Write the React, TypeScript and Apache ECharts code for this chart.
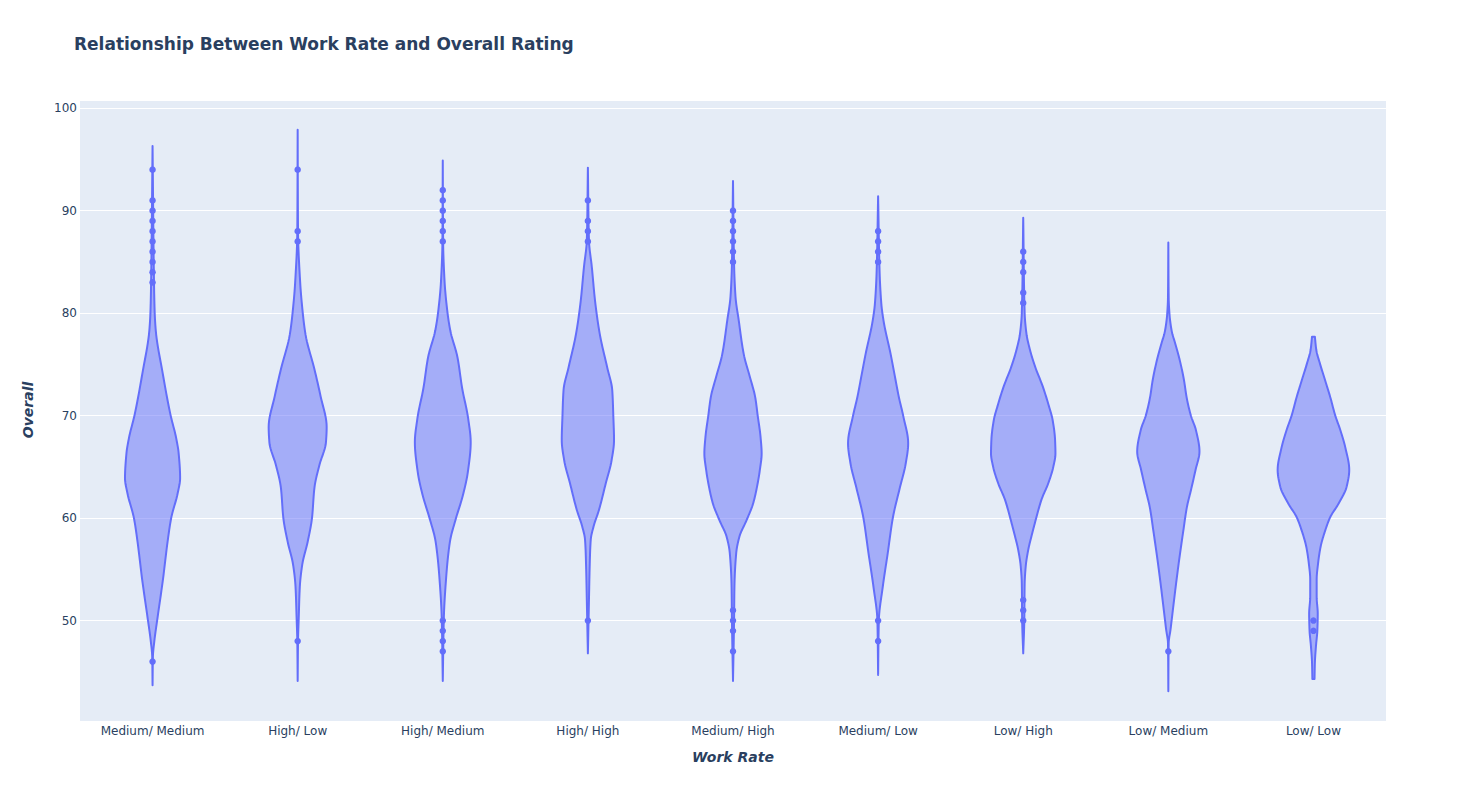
import React, { useEffect, useRef } from "react";
import * as echarts from "echarts";

const categories = [
  "Medium/ Medium",
  "High/ Low",
  "High/ Medium",
  "High/ High",
  "Medium/ High",
  "Medium/ Low",
  "Low/ High",
  "Low/ Medium",
  "Low/ Low",
];

// Estimated density profiles: [overall rating, relative density]
const densityMediumMedium = [[96.3, 0], [83.1, 0.04], [80, 0.06], [78.3, 0.09], [74.2, 0.28], [70.1, 0.5], [67.8, 0.66], [66.3, 0.73], [63.9, 0.77], [62.4, 0.7], [60, 0.52], [57.7, 0.42], [54, 0.29], [50.3, 0.14], [48, 0.05], [46.5, 0.01], [43.7, 0]];
const densityHighLow = [[97.9, 0], [88, 0.01], [83, 0.07], [80.1, 0.14], [77.9, 0.22], [74.5, 0.47], [71.9, 0.64], [68.9, 0.81], [67.4, 0.79], [65.2, 0.61], [63, 0.47], [60, 0.4], [57.7, 0.28], [55.5, 0.13], [53.3, 0.06], [50.3, 0.03], [48, 0.01], [44.1, 0]];
const densityHighMedium = [[94.9, 0], [86.9, 0.01], [83.1, 0.05], [80.1, 0.13], [78.3, 0.21], [75.7, 0.41], [72.7, 0.54], [69.7, 0.71], [67.4, 0.78], [64.5, 0.7], [62.2, 0.56], [60, 0.37], [57.7, 0.2], [54, 0.09], [50.3, 0.03], [44.1, 0]];
const densityHighHigh = [[94.2, 0], [87.1, 0.03], [84.5, 0.11], [81.2, 0.2], [78, 0.33], [74.7, 0.54], [72.5, 0.68], [70, 0.71], [67.6, 0.73], [65.6, 0.66], [63.4, 0.5], [60.8, 0.31], [59.2, 0.16], [57.9, 0.08], [55.3, 0.05], [52, 0.03], [46.8, 0]];
const densityMediumHigh = [[92.9, 0], [84.8, 0.03], [81.6, 0.07], [79.3, 0.16], [76, 0.3], [73.8, 0.47], [71.8, 0.62], [70, 0.69], [67.9, 0.77], [66.3, 0.8], [64.7, 0.75], [62.7, 0.65], [61.4, 0.56], [59.8, 0.38], [58.2, 0.18], [56.6, 0.09], [53.3, 0.04], [50.1, 0.03], [44.1, 0]];
const densityMediumLow = [[91.4, 0], [84.2, 0.04], [80.9, 0.09], [79.3, 0.15], [76, 0.35], [73.8, 0.47], [71.8, 0.58], [70, 0.7], [67.3, 0.84], [65.3, 0.77], [63, 0.61], [60, 0.41], [56.6, 0.27], [53.3, 0.13], [50, 0.02], [44.7, 0]];
const densityLowHigh = [[89.3, 0], [80, 0.04], [78, 0.09], [76.4, 0.19], [74.8, 0.33], [72.8, 0.55], [70.9, 0.72], [69.6, 0.82], [67.6, 0.89], [66.3, 0.9], [65, 0.84], [63.4, 0.7], [61.8, 0.51], [60.1, 0.37], [58.5, 0.25], [56.9, 0.14], [55.3, 0.07], [53.6, 0.04], [50, 0.03], [46.8, 0]];
const densityLowMedium = [[86.9, 0], [81.5, 0.01], [80, 0.03], [79, 0.06], [78, 0.11], [77.3, 0.17], [75.1, 0.34], [73.4, 0.44], [71.8, 0.51], [70, 0.63], [68.6, 0.77], [66.5, 0.87], [64.7, 0.76], [62.7, 0.63], [61.1, 0.52], [58.8, 0.42], [55.6, 0.29], [52.3, 0.17], [49.1, 0.06], [47.8, 0.01], [43.1, 0]];
const densityLowLow = [[77.7, 0.04], [76.4, 0.08], [75.1, 0.18], [73.4, 0.33], [71.8, 0.47], [70, 0.61], [68.6, 0.75], [66.9, 0.89], [64.7, 1], [63.1, 0.93], [61.4, 0.7], [60.1, 0.47], [58.8, 0.33], [57.2, 0.2], [55.6, 0.13], [54, 0.09], [52.3, 0.09], [50.7, 0.12], [49.1, 0.11], [47.5, 0.07], [45.9, 0.04], [44.3, 0.03]];

// Outlier points per category
const outliersMediumMedium = [46, 83, 84, 85, 86, 87, 88, 89, 90, 91, 94];
const outliersHighLow = [48, 87, 88, 94];
const outliersHighMedium = [47, 48, 49, 50, 87, 88, 89, 90, 91, 92];
const outliersHighHigh = [50, 87, 88, 89, 91];
const outliersMediumHigh = [47, 49, 50, 51, 85, 86, 87, 88, 89, 90];
const outliersMediumLow = [48, 50, 85, 86, 87, 88];
const outliersLowHigh = [50, 51, 52, 81, 82, 84, 85, 86];
const outliersLowMedium = [47];
const outliersLowLow = [49, 50];

const densities = [
  densityMediumMedium, densityHighLow, densityHighMedium, densityHighHigh,
  densityMediumHigh, densityMediumLow, densityLowHigh, densityLowMedium, densityLowLow,
];
const outliers = [
  outliersMediumMedium, outliersHighLow, outliersHighMedium, outliersHighHigh,
  outliersMediumHigh, outliersMediumLow, outliersLowHigh, outliersLowMedium, outliersLowLow,
];

const yMin = 40.2;
const yMax = 100.8;

const LINE = "#636efa";
const FILL = "rgba(99,110,250,0.5)";
const TEXT = "#2a3f5f";
const FONT = "'DejaVu Sans', Verdana, sans-serif";
const MAX_HALF_FRACTION = 0.2467; // of category band

// monotone cubic sampling for a smooth outline
function smoothProfile(pts: number[][], steps: number): number[][] {
  const p = pts.slice().sort((a, b) => a[0] - b[0]);
  const n = p.length;
  if (n < 3) return p;
  const xs = p.map((q) => q[0]);
  const ys = p.map((q) => q[1]);
  const dx: number[] = [];
  const m: number[] = [];
  for (let i = 0; i < n - 1; i++) {
    dx[i] = xs[i + 1] - xs[i];
    m[i] = (ys[i + 1] - ys[i]) / dx[i];
  }
  const t: number[] = new Array(n).fill(0);
  t[0] = m[0];
  t[n - 1] = m[n - 2];
  for (let i = 1; i < n - 1; i++) {
    if (m[i - 1] * m[i] <= 0) t[i] = 0;
    else
      t[i] =
        (3 * (dx[i - 1] + dx[i])) /
        ((2 * dx[i] + dx[i - 1]) / m[i - 1] + (dx[i] + 2 * dx[i - 1]) / m[i]);
  }
  const out: number[][] = [];
  for (let i = 0; i < n - 1; i++) {
    const h = dx[i];
    for (let s = 0; s < steps; s++) {
      const u = s / steps;
      const h00 = 2 * u * u * u - 3 * u * u + 1;
      const h10 = u * u * u - 2 * u * u + u;
      const h01 = -2 * u * u * u + 3 * u * u;
      const h11 = u * u * u - u * u;
      const y = h00 * ys[i] + h10 * h * t[i] + h01 * ys[i + 1] + h11 * h * t[i + 1];
      out.push([xs[i] + u * h, Math.max(0, y)]);
    }
  }
  out.push([xs[n - 1], ys[n - 1]]);
  return out;
}

export default function App() {
  const ref = useRef<HTMLDivElement>(null);

  useEffect(() => {
    if (!ref.current) return;
    const chart = echarts.init(ref.current, null, { renderer: "svg" });

    const scatterData: number[][] = [];
    outliers.forEach((arr, i) => arr.forEach((v) => scatterData.push([i, v])));

    const option: any = {
      animation: false,
      backgroundColor: "#ffffff",
      grid: {
        left: 80,
        right: 79,
        top: 100,
        bottom: 80,
        show: true,
        backgroundColor: "#E5ECF6",
        borderWidth: 0,
      },
      xAxis: {
        type: "category",
        data: categories,
        boundaryGap: true,
        axisLine: { show: false },
        axisTick: { show: false },
        splitLine: { show: false },
        axisLabel: { color: TEXT, fontSize: 12, fontFamily: FONT, margin: 4, interval: 0 },
      },
      yAxis: {
        type: "value",
        min: yMin,
        max: yMax,
        axisLine: { show: false },
        axisTick: { show: false },
        splitLine: { show: true, lineStyle: { color: "#ffffff", width: 1 } },
        axisLabel: {
          color: TEXT,
          fontSize: 12,
          fontFamily: FONT,
          margin: 3,
          showMinLabel: false,
          showMaxLabel: false,
        },
      },
      graphic: [
        {
          type: "text",
          left: 74,
          top: 35,
          style: {
            text: "Relationship Between Work Rate and Overall Rating",
            fill: TEXT,
            font: `bold 17px ${FONT}`,
          },
        },
        {
          type: "text",
          x: 733,
          y: 757,
          style: {
            text: "Work Rate",
            fill: TEXT,
            font: `italic bold 14px ${FONT}`,
            textAlign: "center",
            textVerticalAlign: "middle",
          },
        },
        {
          type: "text",
          x: 28,
          y: 410,
          rotation: Math.PI / 2,
          style: {
            text: "Overall",
            fill: TEXT,
            font: `italic bold 14px ${FONT}`,
            textAlign: "center",
            textVerticalAlign: "middle",
          },
        },
      ],
      series: [
        {
          type: "custom",
          data: categories.map((_, i) => [i]),
          encode: { x: 0 },
          clip: true,
          renderItem: (params: any, api: any) => {
            const idx = api.value(0);
            const prof = smoothProfile(densities[idx], 10);
            const bandW = api.size([1, 0])[0];
            const cx = api.coord([idx, yMin])[0];
            const right: number[][] = [];
            const left: number[][] = [];
            prof.forEach(([v, d]) => {
              const y = api.coord([idx, v])[1];
              const hw = d * bandW * MAX_HALF_FRACTION;
              right.push([cx + hw, y]);
              left.push([cx - hw, y]);
            });
            const points = right.concat(left.reverse());
            return {
              type: "polygon",
              shape: { points },
              style: { fill: FILL, stroke: LINE, lineWidth: 2, lineJoin: "round" },
            };
          },
          z: 2,
        },
        {
          type: "scatter",
          data: scatterData,
          symbol: "circle",
          symbolSize: 6.5,
          itemStyle: { color: LINE, opacity: 1 },
          z: 3,
        },
      ],
    };
    chart.setOption(option);
    return () => chart.dispose();
  }, []);

  return (
    <div
      ref={ref}
      style={{ position: "fixed", left: 0, top: 0, width: 1465, height: 801 }}
    />
  );
}
